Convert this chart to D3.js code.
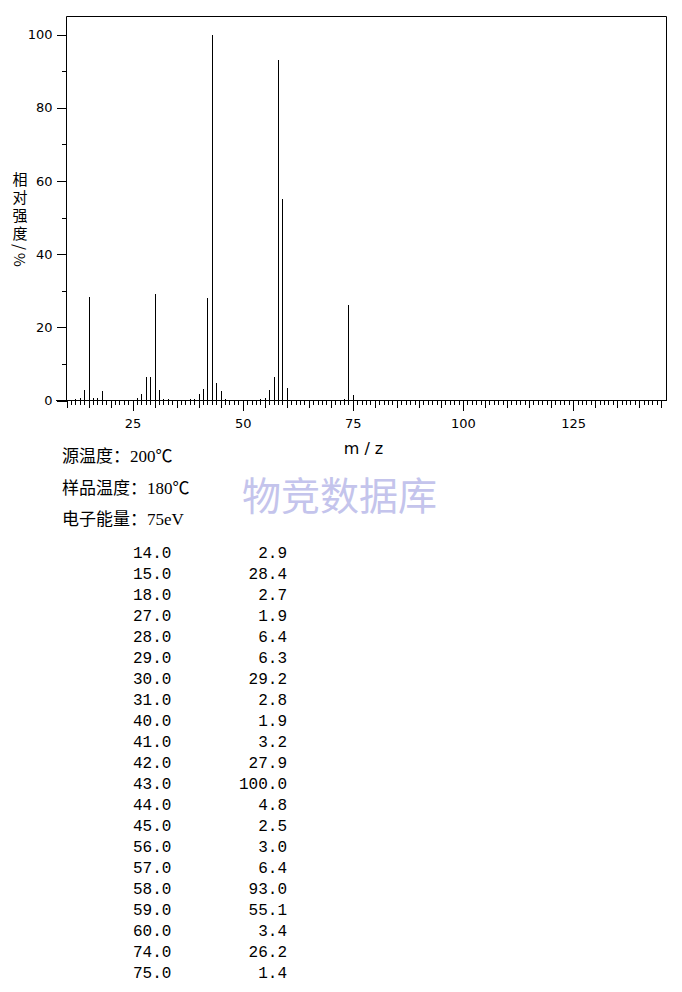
<!DOCTYPE html>
<html><head><meta charset="utf-8">
<script src="https://cdn.jsdelivr.net/npm/d3@7"></script>
<style>
html,body{margin:0;padding:0;background:#fff;}
svg{display:block;}
</style></head>
<body>
<script>
// ---- data ----
const peakMz = [12,13,14,15,16,17,18,26,27,28,29,30,31,32,33,38,39,40,41,42,43,44,45,46,54,55,56,57,58,59,60,73,74,75];
const peakInt = [0.3,0.6,2.9,28.4,0.6,0.6,2.7,0.7,1.9,6.4,6.3,29.2,2.8,0.4,0.3,0.3,0.5,1.9,3.2,27.9,100.0,4.8,2.5,0.3,0.5,0.7,3.0,6.4,93.0,55.1,3.4,0.4,26.2,1.4];
const tableMz = ["14.0","15.0","18.0","27.0","28.0","29.0","30.0","31.0","40.0","41.0","42.0","43.0","44.0","45.0","56.0","57.0","58.0","59.0","60.0","74.0","75.0"];
const tableInt = ["2.9","28.4","2.7","1.9","6.4","6.3","29.2","2.8","1.9","3.2","27.9","100.0","4.8","2.5","3.0","6.4","93.0","55.1","3.4","26.2","1.4"];
const yMajorTicks = [0,20,40,60,80,100];
const yMinorTicks = [10,30,50,70,90];
const xLabelTicks = [25,50,75,100,125];
const xDomain = [10,146.2];
const yDomain = [0,100];
const yTitle = "相对强度/%";
const infoLines = ["源温度：200℃","样品温度：180℃","电子能量：75eV"];
const watermark = "物竞数据库";
const xTitle = "m/z";

const W = 682, H = 992;
const svg = d3.select("body").append("svg").attr("width",W).attr("height",H);

const x = d3.scaleLinear().domain(xDomain).range([66.5,666.5]);
const y = d3.scaleLinear().domain(yDomain).range([400.5,34.5]);

const tickFont = "DejaVu Sans, Verdana, sans-serif";

// frame
svg.append("path")
  .attr("d",`M66.5,400.5V16.5H666.5V400.5`)
  .attr("fill","none").attr("stroke","#000").attr("stroke-width",1);

// x axis ticks
const allInts = d3.range(10,146);
const five = allInts.filter(v=>v%5===0 && v%25!==0);
function styleAxis(g){
  g.select(".domain").remove();
  g.selectAll("line").attr("stroke","#000").attr("shape-rendering","crispEdges");
  g.selectAll("text").attr("font-family",tickFont).attr("font-size",13).attr("fill","#000");
}
svg.append("g").attr("transform","translate(0,400.5)")
  .call(d3.axisBottom(x).tickValues(allInts.filter(v=>v%5!==0)).tickSize(4).tickFormat(""))
  .call(styleAxis);
svg.append("g").attr("transform","translate(0,400.5)")
  .call(d3.axisBottom(x).tickValues(five).tickSize(7).tickFormat(""))
  .call(styleAxis);
svg.append("g").attr("transform","translate(0,400.5)")
  .call(d3.axisBottom(x).tickValues(xLabelTicks).tickSize(10).tickPadding(8).tickFormat(d3.format("d")))
  .call(styleAxis);
// x axis line
svg.append("line").attr("x1",56).attr("x2",666.5).attr("y1",400.5).attr("y2",400.5)
  .attr("stroke","#000").attr("shape-rendering","crispEdges");

// y axis ticks
svg.append("g").attr("transform","translate(66.5,0)")
  .call(d3.axisLeft(y).tickValues(yMajorTicks).tickSize(10).tickPadding(4).tickFormat(d3.format("d")))
  .call(styleAxis);
svg.append("g").attr("transform","translate(66.5,0)")
  .call(d3.axisLeft(y).tickValues(yMinorTicks).tickSize(5).tickFormat(""))
  .call(styleAxis);

// bars
svg.append("g").selectAll("line").data(peakMz.map((m,i)=>({m,v:peakInt[i]})))
  .join("line")
  .attr("x1",d=>Math.round(x(d.m))+0.5).attr("x2",d=>Math.round(x(d.m))+0.5)
  .attr("y1",y(0)).attr("y2",d=>y(d.v))
  .attr("stroke","#000").attr("stroke-width",1).attr("shape-rendering","crispEdges");

// x title
svg.append("text").attr("x",366).attr("y",454).attr("text-anchor","middle")
  .attr("font-family",tickFont).attr("font-size",16).attr("letter-spacing","5px")
  .text(xTitle);

// y title (vertical writing)
const cjk = "Noto Sans CJK SC, sans-serif";
svg.append("text").attr("x",20).attr("y",172)
  .style("writing-mode","vertical-rl")
  .attr("font-family",cjk).attr("font-size",15).attr("letter-spacing","3px")
  .text(yTitle);

// info lines
infoLines.forEach((t,i)=>{
  svg.append("text").attr("x",62).attr("y",[462,494,525][i])
    .attr("font-family","Liberation Serif, Noto Sans CJK SC, serif").attr("font-size",17)
    .text(t);
});

// watermark
svg.append("text").attr("x",242).attr("y",510)
  .attr("font-family",cjk).attr("font-size",39).attr("fill","rgb(196,196,236)")
  .text(watermark);

// table
const mono = "Liberation Mono, Courier New, monospace";
const rows = svg.append("g");
tableMz.forEach((m,i)=>{
  rows.append("text").attr("x",133).attr("y",558+i*21)
    .attr("font-family",mono).attr("font-size",16).text(m);
  rows.append("text").attr("x",287).attr("y",558+i*21).attr("text-anchor","end")
    .attr("font-family",mono).attr("font-size",16).text(tableInt[i]);
});
</script>
</body></html>
